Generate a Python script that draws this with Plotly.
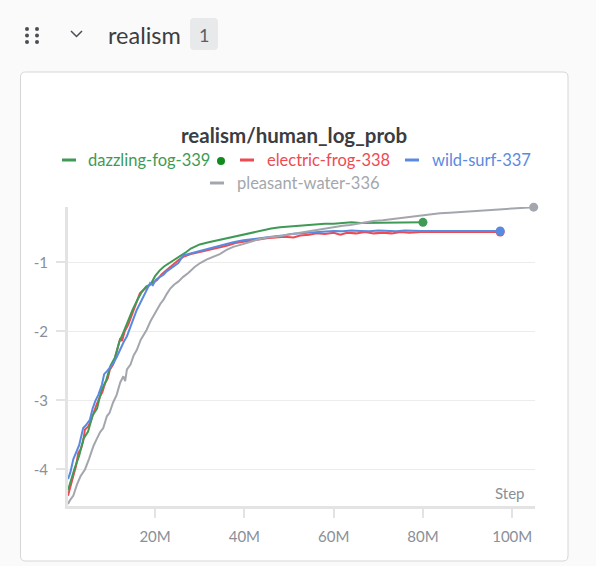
import plotly.graph_objects as go

# ---------------- data (steps in millions) ----------------
green_name = "dazzling-fog-339"
green_x = [0.5, 1, 2, 3, 4, 5, 6, 7, 8, 9, 10, 11, 12, 13, 14, 15, 16, 17, 18, 19, 20, 21, 22, 23, 24, 25,
           26, 27, 28, 29, 30, 32, 34, 36, 38, 40, 42, 44, 46, 48, 50, 52, 54, 56, 58, 60, 62, 64, 66, 68,
           70, 72, 74, 76, 78, 80]
green_y = [-4.30, -4.18, -3.98, -3.80, -3.55, -3.45, -3.22, -3.12, -2.85, -2.72, -2.50, -2.38, -2.15, -2.00,
           -1.83, -1.68, -1.55, -1.43, -1.35, -1.32, -1.20, -1.12, -1.06, -1.02, -0.97, -0.94, -0.90, -0.85,
           -0.80, -0.77, -0.74, -0.71, -0.68, -0.65, -0.62, -0.59, -0.56, -0.53, -0.51, -0.49, -0.48, -0.46,
           -0.46, -0.44, -0.44, -0.44, -0.43, -0.42, -0.43, -0.43, -0.42, -0.43, -0.42, -0.42, -0.43, -0.42]

red_name = "electric-frog-338"
red_x = [0.5, 1.1, 1.7, 2.3, 2.8, 3.4, 3.9, 4.3, 5.0, 5.6, 6.2, 6.9, 7.7, 8.2, 8.8, 9.4, 9.9, 10.6, 11.4,
         12.2, 12.6, 13.2, 14.0, 14.8, 15.6, 16.6, 17.4, 18.4, 19.3, 20.4, 21.5, 22.6, 23.5, 24.5, 25.4,
         26.3, 28, 30, 32, 33.8, 36, 38, 40, 41.3, 43, 45, 47, 49, 51, 52.5, 54.5, 56.2, 58, 60, 61.5, 63,
         65, 67, 69, 71, 73, 75, 77, 79.5, 97.3]
red_y = [-4.38, -4.25, -4.09, -3.95, -3.76, -3.70, -3.59, -3.42, -3.38, -3.30, -3.18, -3.06, -2.94, -2.88,
         -2.75, -2.68, -2.55, -2.48, -2.30, -2.10, -2.14, -2.00, -1.90, -1.76, -1.62, -1.45, -1.40, -1.34,
         -1.30, -1.26, -1.17, -1.11, -1.06, -1.00, -0.96, -0.92, -0.88, -0.85, -0.82, -0.80, -0.76, -0.72,
         -0.70, -0.68, -0.66, -0.65, -0.64, -0.63, -0.64, -0.61, -0.60, -0.58, -0.59, -0.57, -0.60, -0.57,
         -0.58, -0.56, -0.58, -0.57, -0.58, -0.56, -0.57, -0.56, -0.56]

blue_name = "wild-surf-337"
blue_x = [0.5, 1, 1.7, 2.5, 3, 3.9, 4.5, 5.4, 6, 6.6, 7.3, 8.1, 8.6, 9.2, 10, 10.7, 11.5, 12.3, 13, 13.7,
          14.5, 15.2, 15.9, 16.6, 17.4, 18.1, 18.9, 19.5, 20.2, 21.1, 21.9, 22.6, 23.4, 24.3, 25.2, 26.3,
          27.5, 29, 30.8, 33, 35.3, 37.5, 39.8, 42, 45, 47, 48.7, 50.5, 52.5, 54.5, 56.2, 58, 60, 62, 64,
          66, 68, 70, 72, 74, 76, 78, 79.5, 97.3]
blue_y = [-4.14, -4.05, -3.85, -3.72, -3.65, -3.40, -3.36, -3.28, -3.12, -3.01, -2.92, -2.77, -2.62, -2.58,
          -2.52, -2.46, -2.36, -2.24, -2.15, -2.07, -1.92, -1.80, -1.69, -1.60, -1.50, -1.40, -1.30, -1.33,
          -1.25, -1.21, -1.18, -1.13, -1.09, -1.05, -1.01, -0.90, -0.88, -0.85, -0.82, -0.78, -0.75, -0.71,
          -0.68, -0.66, -0.63, -0.62, -0.61, -0.59, -0.58, -0.57, -0.56, -0.55, -0.545, -0.55, -0.54,
          -0.545, -0.55, -0.54, -0.545, -0.55, -0.54, -0.545, -0.545, -0.545]

gray_name = "pleasant-water-336"
gray_x = [0.5, 1, 1.7, 2.5, 3.3, 4.3, 5.2, 6.2, 7, 7.7, 8.4, 9.2, 9.8, 10.6, 11.4, 12.2, 12.9, 13.3, 13.7,
          14.5, 15.2, 15.9, 16.8, 17.5, 18.1, 19, 19.7, 20.4, 21.2, 21.9, 22.6, 23.4, 24.3, 25.2, 26.3, 27.5,
          28.8, 30.1, 31.5, 33, 34.5, 36, 37.5, 39.5, 41.3, 43, 45, 47, 48.7, 50.5, 52.5, 54.5, 56.2, 58,
          59.9, 62, 63.7, 66, 68.9, 71, 73.5, 76.4, 79, 81.5, 83.8, 86, 88.5, 91.3, 93.5, 96, 98.8, 101,
          103, 104.8]
gray_y = [-4.50, -4.44, -4.38, -4.22, -4.10, -4.00, -3.85, -3.66, -3.55, -3.46, -3.40, -3.23, -3.18, -3.03,
          -2.92, -2.74, -2.65, -2.72, -2.55, -2.48, -2.35, -2.27, -2.12, -2.05, -1.98, -1.85, -1.78, -1.69,
          -1.60, -1.54, -1.46, -1.38, -1.32, -1.28, -1.21, -1.15, -1.07, -1.01, -0.96, -0.92, -0.88, -0.82,
          -0.775, -0.74, -0.70, -0.67, -0.64, -0.63, -0.61, -0.59, -0.57, -0.55, -0.53, -0.51, -0.485,
          -0.47, -0.46, -0.43, -0.40, -0.39, -0.37, -0.34, -0.32, -0.31, -0.29, -0.28, -0.27, -0.255,
          -0.25, -0.23, -0.22, -0.21, -0.21, -0.20]

x_tick_vals = [20, 40, 60, 80, 100]
x_tick_text = ["20M", "40M", "60M", "80M", "100M"]
y_tick_vals = [-1, -2, -3, -4]
y_tick_text = ["-1", "-2", "-3", "-4"]

chart_title = "realism/human_log_prob"
section_title = "realism"
section_count = "1"

# ---------------- styling ----------------
GREEN = "#3f9a55"
RED = "#ee4a52"
BLUE = "#5a8ae0"
GRAY = "#a3a7ad"
FONT = "Lato"
TICK_COLOR = "#8a8f98"

W, H = 596, 566
L, R, T, B = 68, 535, 207, 506


def px(xp):
    return (xp - L) / (R - L)


def py(yp):
    return (B - yp) / (B - T)


M = 1e6
series = [
    (red_name, red_x, red_y, RED),
    (green_name, green_x, green_y, GREEN),
    (blue_name, blue_x, blue_y, BLUE),
    (gray_name, gray_x, gray_y, GRAY),
]

fig = go.Figure()
for name, xs, ys, col in series:
    fig.add_trace(go.Scatter(x=[v * M for v in xs], y=ys, mode="lines", name=name,
                             line=dict(color=col, width=2), showlegend=False, hoverinfo="skip"))
for name, xs, ys, col in series:
    fig.add_trace(go.Scatter(x=[xs[-1] * M], y=[ys[-1]], mode="markers", cliponaxis=False,
                             marker=dict(color=col, size=9), showlegend=False, hoverinfo="skip"))

shapes = []
annotations = []

# panel box with rounded corners
x0, y0, x1, y1, r = 20.5, 72, 568, 561, 5
path = (f"M{px(x0 + r)},{py(y0)} L{px(x1 - r)},{py(y0)} Q{px(x1)},{py(y0)} {px(x1)},{py(y0 + r)} "
        f"L{px(x1)},{py(y1 - r)} Q{px(x1)},{py(y1)} {px(x1 - r)},{py(y1)} "
        f"L{px(x0 + r)},{py(y1)} Q{px(x0)},{py(y1)} {px(x0)},{py(y1 - r)} "
        f"L{px(x0)},{py(y0 + r)} Q{px(x0)},{py(y0)} {px(x0 + r)},{py(y0)} Z")
shapes.append(dict(type="path", xref="paper", yref="paper", path=path, fillcolor="white",
                   line=dict(color="#d6d6d6", width=1), layer="below"))

# header: drag dots
for cx in (27, 37):
    for cy in (29, 35.5, 42):
        shapes.append(dict(type="circle", xref="paper", yref="paper",
                           x0=px(cx - 2), x1=px(cx + 2), y0=py(cy - 2), y1=py(cy + 2),
                           fillcolor="#4a4d52", line=dict(width=0)))
# chevron
shapes.append(dict(type="path", xref="paper", yref="paper",
                   path=f"M{px(71)},{py(31)} L{px(76.5)},{py(36.5)} L{px(82)},{py(31)}",
                   line=dict(color="#4a4d52", width=1.5)))
# badge
bx0, by0, bx1, by1, br = 190, 18, 218, 50, 4
bpath = (f"M{px(bx0 + br)},{py(by0)} L{px(bx1 - br)},{py(by0)} Q{px(bx1)},{py(by0)} {px(bx1)},{py(by0 + br)} "
         f"L{px(bx1)},{py(by1 - br)} Q{px(bx1)},{py(by1)} {px(bx1 - br)},{py(by1)} "
         f"L{px(bx0 + br)},{py(by1)} Q{px(bx0)},{py(by1)} {px(bx0)},{py(by1 - br)} "
         f"L{px(bx0)},{py(by0 + br)} Q{px(bx0)},{py(by0)} {px(bx0 + br)},{py(by0)} Z")
shapes.append(dict(type="path", xref="paper", yref="paper", path=bpath, fillcolor="#e8e9eb",
                   line=dict(width=0)))
annotations.append(dict(x=px(106), y=py(35), xref="paper", yref="paper", text=section_title,
                        showarrow=False, xanchor="left", yanchor="middle",
                        font=dict(family=FONT, size=23.5, color="#3a3d42")))
annotations.append(dict(x=px(204), y=py(34.5), xref="paper", yref="paper", text=section_count,
                        showarrow=False, xanchor="center", yanchor="middle",
                        font=dict(family=FONT, size=18, color="#5a5e66")))

# chart title
annotations.append(dict(x=px(294), y=py(135), xref="paper", yref="paper", text=f"<b>{chart_title}</b>",
                        showarrow=False, xanchor="center", yanchor="middle",
                        font=dict(family=FONT, size=20.5, color="#3b3d42")))

# legend
legend_items = [
    (green_name, GREEN, 62, 86, 160),
    (red_name, RED, 240, 265, 160),
    (blue_name, BLUE, 405, 430, 160),
    (gray_name, GRAY, 210, 235, 183),
]
for name, col, dx, tx, ly in legend_items:
    shapes.append(dict(type="line", xref="paper", yref="paper", x0=px(dx), x1=px(dx + 14),
                       y0=py(ly), y1=py(ly), line=dict(color=col, width=3)))
    annotations.append(dict(x=px(tx), y=py(ly), xref="paper", yref="paper", text=name,
                            showarrow=False, xanchor="left", yanchor="middle",
                            font=dict(family=FONT, size=16.5, color=col)))
# running indicator dot
shapes.append(dict(type="circle", xref="paper", yref="paper", x0=px(217), x1=px(225),
                   y0=py(157), y1=py(165), fillcolor="#128a1e", line=dict(width=0)))

# "Step" label
annotations.append(dict(x=px(526), y=py(493), xref="paper", yref="paper", text="Step",
                        showarrow=False, xanchor="right", yanchor="middle",
                        font=dict(family=FONT, size=15, color=TICK_COLOR)))

fig.update_layout(
    width=W, height=H,
    margin=dict(l=L, r=W - R, t=T, b=H - B, pad=0),
    paper_bgcolor="#fafafa",
    plot_bgcolor="white",
    shapes=shapes,
    annotations=annotations,
    showlegend=False,
    xaxis=dict(range=[0.5 * M, 105.1 * M], tickvals=[v * M for v in x_tick_vals], ticktext=x_tick_text,
               showgrid=False, zeroline=False, showline=True, linecolor="#e3e3e3", linewidth=3,
               ticks="outside", ticklen=9, tickwidth=2, tickcolor="#e3e3e3",
               ticklabelstandoff=6,
               tickfont=dict(family=FONT, size=15, color=TICK_COLOR)),
    yaxis=dict(range=[-4.53, -0.198], tickvals=y_tick_vals, ticktext=y_tick_text,
               showgrid=True, gridcolor="#ececec", gridwidth=1, zeroline=False,
               showline=True, linecolor="#e3e3e3", linewidth=3,
               ticks="outside", ticklen=9, tickwidth=2, tickcolor="#e3e3e3",
               ticklabelstandoff=5,
               tickfont=dict(family=FONT, size=15, color=TICK_COLOR)),
)

fig.write_html("out.html")
